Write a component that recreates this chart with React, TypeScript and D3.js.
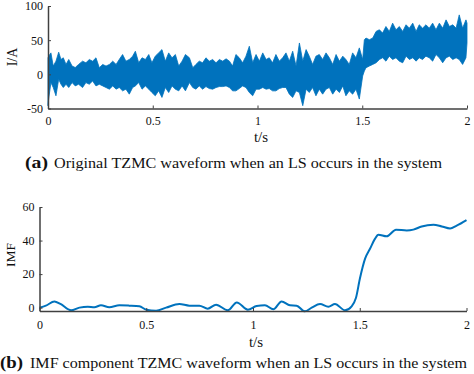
import { useEffect, useRef } from "react"
import * as d3 from "d3"

// (a) original TZMC waveform, drawn as the band between its upper and lower envelope
const timeA = [
  0, 0.003, 0.014, 0.025, 0.038, 0.051, 0.062, 0.073, 0.086, 0.099, 0.115, 0.13, 0.146, 0.165, 0.181, 0.197, 0.213, 0.229, 0.245, 0.261, 0.277, 0.293, 0.309, 0.325, 0.34, 0.356, 0.372, 0.388, 0.404, 0.417, 0.433, 0.449, 0.465, 0.481, 0.496, 0.512, 0.528, 0.544, 0.56, 0.576, 0.592, 0.608, 0.624, 0.64, 0.656,
  0.675, 0.691, 0.706, 0.722, 0.738, 0.754, 0.77, 0.786, 0.802, 0.818, 0.834, 0.85, 0.866, 0.881, 0.897, 0.913, 0.929, 0.945, 0.961, 0.977, 0.993, 1.009, 1.025, 1.041, 1.056, 1.072, 1.088, 1.104, 1.12, 1.136, 1.152, 1.168, 1.184, 1.2, 1.216, 1.232, 1.247, 1.263, 1.279, 1.295, 1.311, 1.327,
  1.343, 1.359, 1.375, 1.391, 1.407, 1.422, 1.438, 1.454, 1.47, 1.486, 1.502, 1.51, 1.518, 1.534, 1.55, 1.566, 1.582, 1.597, 1.613, 1.629, 1.645, 1.661, 1.677, 1.693, 1.709, 1.725, 1.741, 1.757, 1.772, 1.788, 1.804, 1.82, 1.836, 1.852, 1.868, 1.884, 1.9, 1.916, 1.932, 1.948, 1.963, 1.979, 1.995, 2.0,
]
const upperA = [
  24, 26.6, 31.4, 12.1, 19.3, 32.4, 21.7, 24.2, 14.5, 21.7, 12.1, 10, 14.5, 19.3, 16.9, 21.7, 19.3, 24.2, 9.7, 14.5, 12.1, 14.5, 19.3, 14.5, 21.7, 29, 19.3, 21.7, 26.6, 33.8, 16.9, 24.2, 21.7, 29, 16.9, 26.6, 31.4, 36.2, 19.3, 31.4, 24.2, 29, 12.1, 19.3, 29,
  24.2, 9.7, 14.5, 19.3, 16.9, 24.2, 19.3, 21.7, 16.9, 21.7, 19.3, 22.7, 19.3, 12.1, 29, 24.2, 16.9, 26.6, 41.1, 16.9, 29, 19.3, 31.4, 21.7, 24.2, 16.9, 29, 19.3, 24.2, 31.4, 19.3, 33.8, 12.1, 45.9, 19.3, 36.2, 26.6, 14.5, 26.6, 29, 21.7, 31.4,
  24.2, 14.5, 29, 19.3, 26.6, 21.7, 14.5, 31.4, 24.2, 38.7, 21.7, 50.7, 53.1, 50.7, 53.1, 62.8, 65.2, 60.4, 70, 62.8, 74.9, 65.2, 70, 62.8, 72.5, 67.6, 74.9, 62.8, 72.5, 67.6, 72.5, 67.6, 74.9, 65.2, 74.9, 67.6, 79.7, 70, 72.5, 67.6, 87, 67.6, 79.7, 74.9,
]
const lowerA = [
  -46, -36, -12.1, -19.3, -31.4, -7.2, -14.5, -19.3, -14.5, -19.3, -12.1, -16.9, -14.5, -19.3, -12.1, -14.5, -9.7, -16.9, -14.5, -16.9, -19.3, -21.7, -16.9, -21.7, -19.3, -24.2, -21.7, -29, -19.3, -16.9, -12.1, -21.7, -16.9, -21.7, -26.6, -31.4, -24.2, -33.8, -19.3, -26.6, -16.9, -21.7, -24.2, -16.9, -24.2,
  -12.1, -19.3, -21.7, -16.9, -21.7, -17.9, -20.8, -21.7, -19.3, -17.9, -17.9, -16.9, -19.3, -24.2, -24.2, -20.8, -16.9, -19.3, -26.6, -31.4, -21.7, -21.7, -19.3, -21.7, -20.8, -24.2, -24.2, -20.8, -19.3, -19.3, -29, -33.8, -24.2, -26.6, -45.9, -21.7, -26.6, -19.3, -31.4, -21.7, -29, -21.7,
  -19.3, -29, -21.7, -26.6, -16.9, -31.4, -24.2, -29, -21.7, -36.2, -2.4, 4.8, 9.7, 12.1, 14.5, 16.9, 21.7, 24.2, 19.3, 26.6, 21.7, 24.2, 19.3, 16.9, 26.6, 21.7, 24.2, 19.3, 24.2, 21.7, 26.6, 24.2, 19.3, 29, 24.2, 16.9, 24.2, 26.6, 21.7, 24.2, 21.7, 14.5, 24.2, 45.9,
]

// (b) IMF component
const timeB = [0, 0.03, 0.07, 0.098, 0.148, 0.187, 0.226, 0.257, 0.288, 0.327, 0.374, 0.42, 0.468, 0.5, 0.546, 0.593, 0.655, 0.702, 0.749, 0.788, 0.827, 0.882, 0.924, 0.976, 1.017, 1.056, 1.095, 1.134, 1.173, 1.204, 1.243, 1.275, 1.314, 1.353, 1.384, 1.431, 1.462, 1.482, 1.501, 1.525, 1.548, 1.571, 1.587, 1.626, 1.67, 1.72, 1.751, 1.79, 1.845, 1.884, 1.923, 1.954, 2.0]
const imfB = [0, 1.2, 3.7, 2.2, -1.6, 0, 0.6, 0.3, 1.4, 0.2, 1.4, 1.2, 0.8, -1.2, -1.8, 0, 2.2, 1.2, 1.2, -0.6, 1.8, -1.6, 3.1, -1.2, 1, 1.4, -1, 3.7, 1.4, 1.2, -2.2, 0, 2.2, 0.6, 2.2, -1.6, 0.8, 5.7, 17.5, 29.2, 35.1, 41, 43.5, 42.5, 46.5, 46, 46.5, 48.4, 49.4, 48.4, 47.2, 48.9, 52.2]

const xTicks = [0, 0.5, 1, 1.5, 2]
const xTickLabels = ["0", "0.5", "1", "1.5", "2"]
const yTicksA = [-50, 0, 50, 100]
const yTickLabelsA = ["-50", "0", "50", "100"]
const yTicksB = [0, 20, 40, 60]
const yTickLabelsB = ["0", "20", "40", "60"]

const BLUE = "#0072bd"
const AXIS = "#404040"
const FONT = "'Liberation Serif', 'Times New Roman', serif"

const App = () => {
  const svgRef = useRef<SVGSVGElement>(null)

  useEffect(() => {
    const svg = d3.select(svgRef.current)
    svg.selectAll("*").remove()

    const styleAxis = (g: any) => {
      g.select(".domain").attr("stroke", AXIS).attr("stroke-width", 1.5)
      g.selectAll(".tick line").attr("stroke", AXIS).attr("stroke-width", 1)
      g.selectAll(".tick text").attr("font-family", FONT).attr("font-size", 12).attr("fill", "#111")
    }

    const label = (x: number, y: number, txt: string, size: number, rotate = false) =>
      svg.append("text")
        .attr("transform", rotate ? `translate(${x},${y}) rotate(-90)` : `translate(${x},${y})`)
        .attr("text-anchor", "middle").attr("font-family", FONT).attr("font-size", size)
        .attr("fill", "#111").text(txt)

    // caption: bold "(a)" then plain text, each fitted to the width it takes in the figure
    const caption = (x: number, y: number, tag: string, tagW: number, restX: number, restW: number, rest: string) => {
      svg.append("text").attr("x", x).attr("y", y).attr("font-family", FONT).attr("font-weight", "bold")
        .attr("font-size", 17).attr("textLength", tagW).attr("lengthAdjust", "spacingAndGlyphs").attr("fill", "#111").text(tag)
      svg.append("text").attr("x", restX).attr("y", y).attr("font-family", FONT)
        .attr("font-size", 15.5).attr("textLength", restW).attr("lengthAdjust", "spacingAndGlyphs").attr("fill", "#111").text(rest)
    }

    // ---------- chart (a) ----------
    const xA = d3.scaleLinear().domain([0, 2]).range([48, 467])
    const yA = d3.scaleLinear().domain([-50, 100]).range([108.5, 6])

    const bandA = timeA.map((t, i) => ({ t, hi: upperA[i], lo: lowerA[i] }))
    const area = d3.area<any>()
      .x(d => xA(d.t))
      .y0(d => yA(d.lo))
      .y1(d => yA(d.hi))
    svg.append("path").datum(bandA).attr("d", area).attr("fill", BLUE)
      .attr("stroke", BLUE).attr("stroke-width", 0.8)

    const axBA = svg.append("g").attr("transform", `translate(0,${yA(-50)})`)
      .call(d3.axisBottom(xA).tickValues(xTicks).tickFormat((d, i) => xTickLabels[i]).tickSize(-3).tickSizeOuter(0).tickPadding(8))
    styleAxis(axBA)
    const axLA = svg.append("g").attr("transform", `translate(${xA(0)},0)`)
      .call(d3.axisLeft(yA).tickValues(yTicksA).tickFormat((d, i) => yTickLabelsA[i]).tickSize(-3).tickSizeOuter(0).tickPadding(5))
    styleAxis(axLA)

    label(261, 142, "t/s", 15)
    label(17, 57, "I/A", 14, true)
    caption(25, 168, "(a)", 23, 54, 388, "Original TZMC waveform when an LS occurs in the system")

    // ---------- chart (b) ----------
    const xB = d3.scaleLinear().domain([0, 2]).range([39.5, 466.5])
    const yB = d3.scaleLinear().domain([-2, 60]).range([311, 207])

    const lineGen = d3.line<number>()
      .x((d, i) => xB(timeB[i]))
      .y(d => yB(d))
      .curve(d3.curveMonotoneX)
    svg.append("path").datum(imfB).attr("d", lineGen).attr("fill", "none")
      .attr("stroke", BLUE).attr("stroke-width", 2)

    const axBB = svg.append("g").attr("transform", `translate(0,${yB(-2)})`)
      .call(d3.axisBottom(xB).tickValues(xTicks).tickFormat((d, i) => xTickLabels[i]).tickSize(-3).tickSizeOuter(0).tickPadding(9))
    styleAxis(axBB)
    const axLB = svg.append("g").attr("transform", `translate(${xB(0)},0)`)
      .call(d3.axisLeft(yB).tickValues(yTicksB).tickFormat((d, i) => yTickLabelsB[i]).tickSize(-3).tickSizeOuter(0).tickPadding(5))
    styleAxis(axLB)

    label(256, 347, "t/s", 15)
    label(15, 255, "IMF", 13.5, true)
    caption(0, 368, "(b)", 23, 30, 437, "IMF component TZMC waveform when an LS occurs in the system")
  }, [])

  return (
    <svg ref={svgRef} width={474} height={374}
      style={{ position: "absolute", left: 0, top: 0, background: "#fff" }} />
  )
}

export default App
